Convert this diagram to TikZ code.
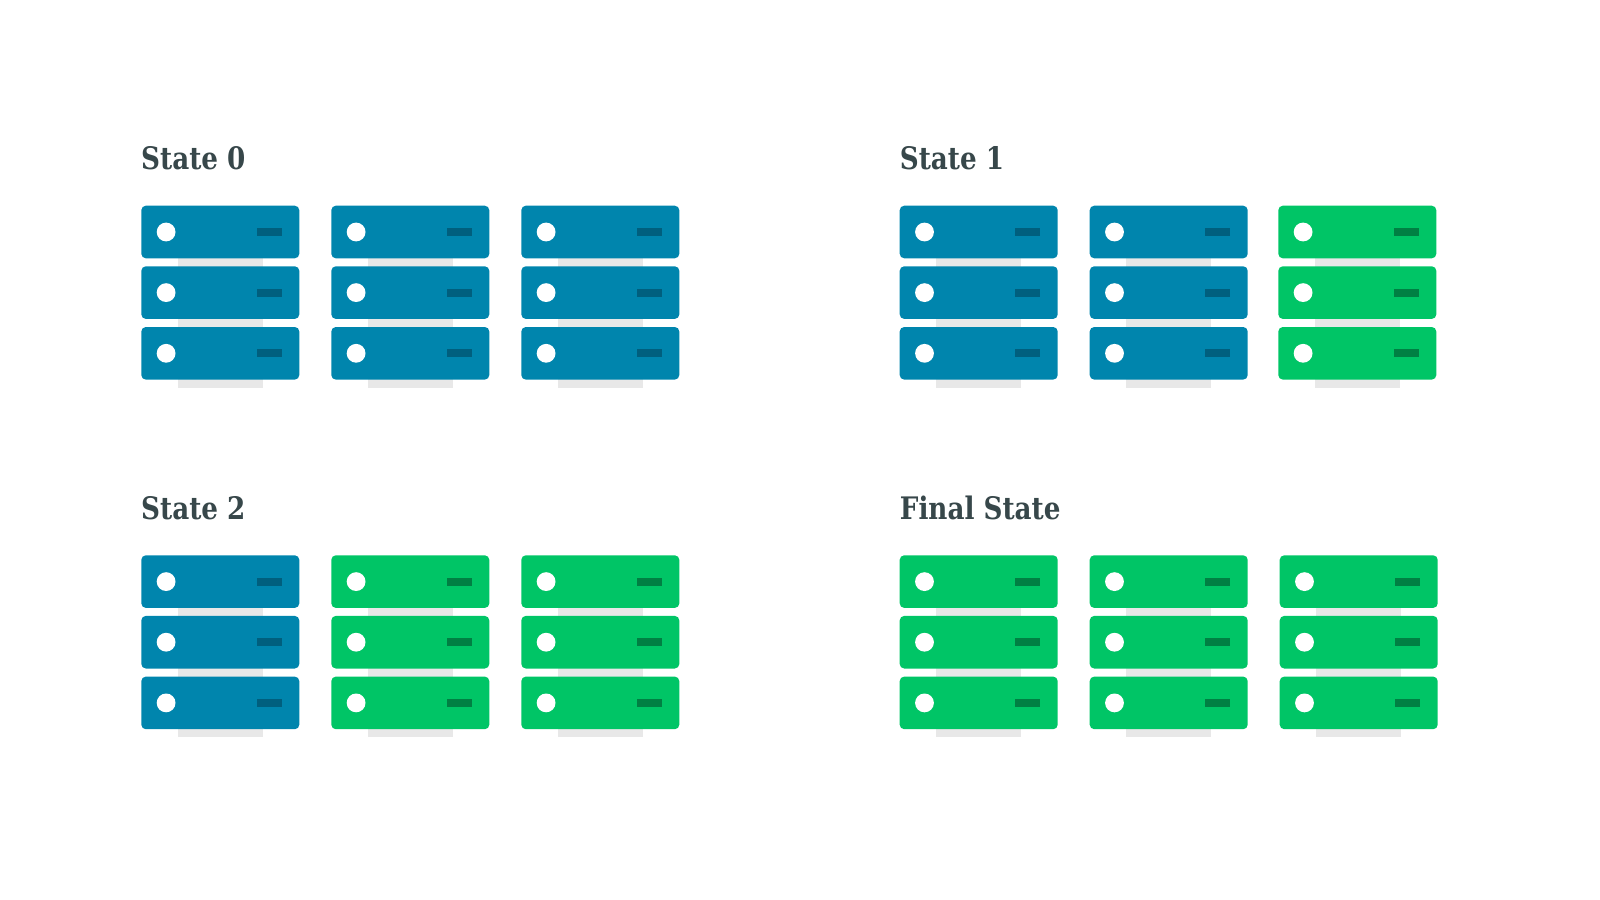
\documentclass[tikz,border=0pt]{standalone}
\usepackage{fontspec}
\setmainfont{DejaVu Serif}[BoldFont={DejaVu Serif Condensed Bold},BoldFeatures={FakeStretch=0.94}]
\definecolor{blueBox}{HTML}{0085AD}
\definecolor{blueDark}{HTML}{005F7E}
\definecolor{greenBox}{HTML}{00C566}
\definecolor{greenDark}{HTML}{008043}
\definecolor{shadowGrey}{HTML}{E8E8E8}
\definecolor{titleInk}{HTML}{37474A}
\tikzset{
  unit/.style={draw=none,inner sep=0pt,outer sep=0pt,minimum width=158pt,minimum height=52.6pt,rounded corners=4.5pt,anchor=north west},
  backing/.style={draw=none,fill=shadowGrey,inner sep=0pt,outer sep=0pt,minimum width=84.5pt,minimum height=130pt,anchor=north west},
  led/.style={circle,fill=white,draw=none,inner sep=0pt,minimum size=18.8pt},
  slot/.style={fill=#1,draw=none,inner sep=0pt,minimum width=25pt,minimum height=8pt},
  title/.style={anchor=base west,inner sep=0pt,text=titleInk,font=\fontsize{31}{31}\selectfont\bfseries},
}
% #1 name, #2 x, #3 y, #4 box colour, #5 slot colour
\newcommand{\rackunit}[5]{%
  \node[backing] (#1s) at (#2+36.7,#3+52) {};
  \foreach \r/\dy in {a/0,b/60.6,c/121.3}{
    \node[unit,fill=#4] (#1\r) at (#2,#3+\dy) {};
    \node[led] (#1\r l) at (#2+24.8,#3+\dy+26.3) {};
    \node[slot=#5] (#1\r d) at (#2+128,#3+\dy+26.3) {};
  }%
}
\newcommand{\rackB}[3]{\rackunit{#1}{#2}{#3}{blueBox}{blueDark}}
\newcommand{\rackG}[3]{\rackunit{#1}{#2}{#3}{greenBox}{greenDark}}
\begin{document}
\begin{tikzpicture}[x=1pt,y=-1pt]
\useasboundingbox (0,0) rectangle (1600,899);
\node[title] (t0) at (141,169.5) {State 0};
\node[title] (t1) at (899.7,169.5) {State 1};
\node[title] (t2) at (141,519.5) {State 2};
\node[title] (t3) at (899.7,519.5) {Final State};
\rackB{p}{141.3}{205.7}\rackB{q}{331.3}{205.7}\rackB{r}{521.3}{205.7}
\rackB{s}{899.7}{205.7}\rackB{u}{1089.7}{205.7}\rackG{v}{1278.3}{205.7}
\rackB{w}{141.3}{555.3}\rackG{x}{331.3}{555.3}\rackG{y}{521.3}{555.3}
\rackG{z}{899.7}{555.3}\rackG{m}{1089.7}{555.3}\rackG{n}{1279.7}{555.3}
\end{tikzpicture}
\end{document}
